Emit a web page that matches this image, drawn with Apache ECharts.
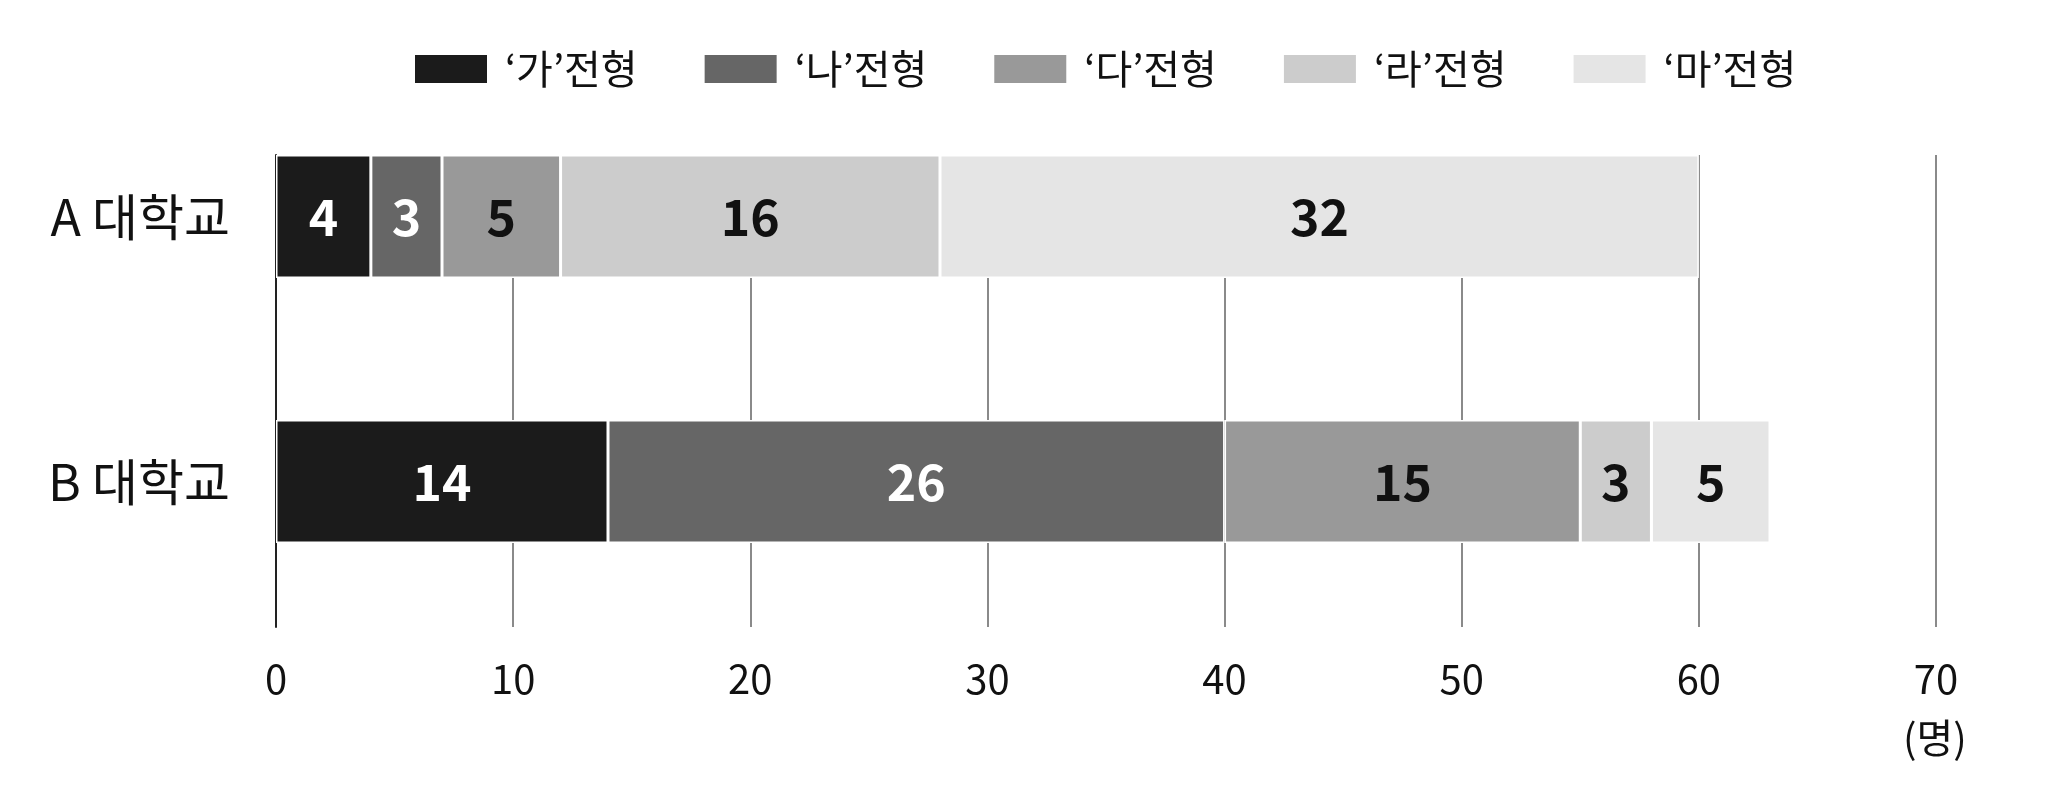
<!DOCTYPE html>
<html><head><meta charset="utf-8">
<script src="https://cdn.jsdelivr.net/npm/echarts@6/dist/echarts.min.js"></script>
<style>html,body{margin:0;padding:0;background:#fff}#c{width:2048px;height:809px}</style>
</head><body><div id="c"></div>
<script>
const categories = ['A 대학교', 'B 대학교'];
const seriesNames = ['‘가’전형', '‘나’전형', '‘다’전형', '‘라’전형', '‘마’전형'];
const ga = [4, 14];
const na = [3, 26];
const da = [5, 15];
const ra = [16, 3];
const ma = [32, 5];
const xTicks = [0, 10, 20, 30, 40, 50, 60, 70];
const unitLabel = '(명)';

const colors = ['#1b1b1b', '#666666', '#999999', '#cccccc', '#e5e5e5'];
const labelColors = ['#ffffff', '#ffffff', '#111111', '#111111', '#111111'];
const values = [ga, na, da, ra, ma];
const FONT = '"Noto Sans CJK KR", "Noto Sans", sans-serif';

const chart = echarts.init(document.getElementById('c'));
chart.setOption({
  animation: false,
  backgroundColor: '#fff',
  textStyle: { fontFamily: FONT },
  legend: {
    left: 408, top: 44,
    itemWidth: 74, itemHeight: 30, itemGap: 65,
    icon: 'rect',
    textStyle: { fontSize: 40, color: '#111', fontFamily: FONT, padding: [0, 0, 0, 12] },
    data: seriesNames
  },
  grid: [
    { left: 276, right: 112, top: 84, height: 530 },
    { left: 276, right: 112, top: 155, bottom: 182 }
  ],
  xAxis: [
    { gridIndex: 0, type: 'value', min: 0, max: 70, interval: 10, show: false },
    { gridIndex: 1, type: 'value', min: 0, max: 70, interval: 10,
      axisLine: { show: false }, axisTick: { show: false },
      splitLine: { show: true, lineStyle: { color: '#8a8a8a', width: 2 } },
      axisLabel: { fontSize: 40, color: '#111', margin: 32, fontFamily: FONT,
        formatter: v => xTicks.includes(v) ? String(v) : '' } }
  ],
  yAxis: [
    { gridIndex: 0, type: 'category', data: categories, inverse: true,
      axisLine: { show: false }, axisTick: { show: false }, splitLine: { show: false },
      axisLabel: { fontSize: 50, color: '#111', margin: 46, fontFamily: FONT } },
    { gridIndex: 1, type: 'value', min: 0, max: 1,
      axisLine: { show: true, lineStyle: { color: '#222', width: 2 } },
      axisTick: { show: false }, axisLabel: { show: false }, splitLine: { show: false } }
  ],
  graphic: [{
    type: 'text', left: 1936 - 33, top: 718,
    style: { text: unitLabel, fontSize: 40, fill: '#111', fontFamily: FONT }
  }],
  series: seriesNames.map((name, i) => ({
    name, type: 'bar', stack: 'total', xAxisIndex: 0, yAxisIndex: 0,
    data: values[i], barWidth: 123,
    itemStyle: { color: colors[i], borderColor: '#ffffff', borderWidth: 1.5 },
    label: { show: true, position: 'inside', formatter: '{c}', fontSize: 50,
      fontWeight: 'bold', color: labelColors[i], fontFamily: FONT }
  }))
});
</script></body></html>
